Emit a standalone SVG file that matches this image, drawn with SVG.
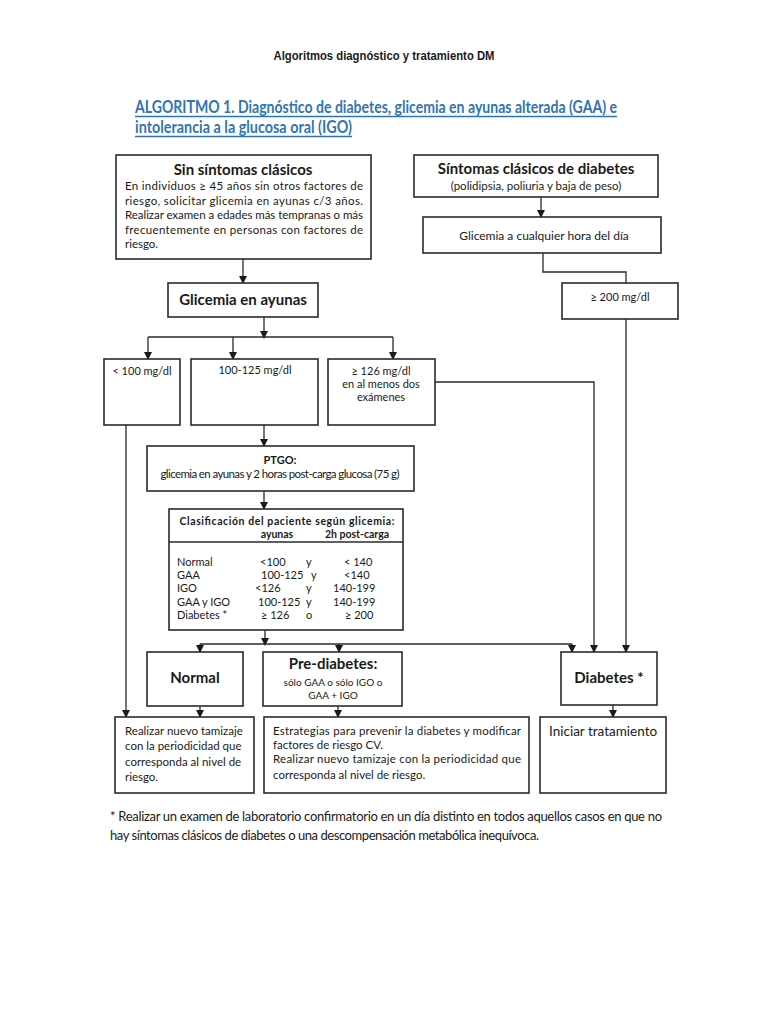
<svg xmlns="http://www.w3.org/2000/svg" width="768" height="1024" viewBox="0 0 768 1024">
<defs>
<marker id="a" markerUnits="userSpaceOnUse" markerWidth="8" markerHeight="8" refX="7" refY="4" orient="auto" viewBox="0 0 8 8">
<path d="M0,0 L8,4 L0,8 Z" fill="#1a1a1a"/>
</marker>
<style>
.box{fill:#fff;stroke:#2a2a2a;stroke-width:1.6}
.ln{fill:none;stroke:#2a2a2a;stroke-width:1.3}
.arr{marker-end:url(#a)}
text{font-family:Lato,"Open Sans","Liberation Sans",sans-serif;fill:#1a1a1a}
.b{font-weight:bold}
.h{font-size:15px;font-weight:bold}
.t{font-size:11.5px}
.s{font-size:11px}
.c{text-anchor:middle}
</style>
</defs>
<rect width="768" height="1024" fill="#fff"/>

<text x="384" y="60" class="c b" style="font-family:'Liberation Sans',Arial,sans-serif;font-size:13px" textLength="221" lengthAdjust="spacingAndGlyphs">Algoritmos diagnóstico y tratamiento DM</text>
<g id="heading">
<text x="135" y="113" style="font-size:16.5px;font-weight:bold;fill:#2f75b5" textLength="482" lengthAdjust="spacingAndGlyphs">ALGORITMO 1. Diagnóstico de diabetes, glicemia en ayunas alterada (GAA) e</text>
<text x="135" y="133" style="font-size:16.5px;font-weight:bold;fill:#2f75b5" textLength="217" lengthAdjust="spacingAndGlyphs">intolerancia a la glucosa oral (IGO)</text>
<line x1="135" y1="116.5" x2="617" y2="116.5" stroke="#2f75b5" stroke-width="1.3"/>
<line x1="135" y1="136.5" x2="352" y2="136.5" stroke="#2f75b5" stroke-width="1.3"/>
</g>

<g id="connectors">
<line class="ln arr" x1="243" y1="259" x2="243" y2="283"/>
<line class="ln arr" x1="541" y1="197" x2="541" y2="217"/>
<polyline class="ln" points="543,253 543,272 626,272 626,283"/>
<line class="ln arr" x1="626" y1="319" x2="626" y2="652"/>
<line class="ln arr" x1="264" y1="317" x2="264" y2="338"/>
<line class="ln" x1="148" y1="337" x2="393" y2="337"/>
<line class="ln arr" x1="148" y1="337" x2="148" y2="359"/>
<line class="ln arr" x1="233" y1="337" x2="233" y2="359"/>
<line class="ln arr" x1="393" y1="337" x2="393" y2="359"/>
<polyline class="ln arr" points="435,382 594,382 594,652"/>
<line class="ln arr" x1="126" y1="425" x2="126" y2="717"/>
<line class="ln arr" x1="264" y1="425" x2="264" y2="446"/>
<line class="ln arr" x1="264" y1="491" x2="264" y2="509"/>
<line class="ln arr" x1="265" y1="630" x2="265" y2="645"/>
<line class="ln" x1="200" y1="644" x2="572" y2="644"/>
<line class="ln arr" x1="200" y1="644" x2="200" y2="652"/>
<line class="ln arr" x1="339" y1="644" x2="339" y2="652"/>
<line class="ln arr" x1="572" y1="644" x2="572" y2="652"/>
<line class="ln arr" x1="200" y1="706" x2="200" y2="717"/>
<line class="ln arr" x1="338" y1="706" x2="338" y2="717"/>
<line class="ln arr" x1="613" y1="705" x2="613" y2="717"/>
</g>

<g id="sin-sintomas">
<rect class="box" x="116" y="155" width="255" height="104"/>
<text x="243" y="175" class="h c">Sin síntomas clásicos</text>
<text x="125" y="190" class="t" textLength="238">En individuos ≥ 45 años sin otros factores de</text>
<text x="125" y="205" class="t" textLength="238">riesgo, solicitar glicemia en ayunas c/3 años.</text>
<text x="125" y="219" class="t" textLength="238">Realizar examen a edades más tempranas o más</text>
<text x="125" y="234" class="t" textLength="238">frecuentemente en personas con factores de</text>
<text x="125" y="248" class="t">riesgo.</text>
</g>

<g id="sintomas">
<rect class="box" x="414" y="155" width="244" height="42"/>
<text x="536" y="174" class="h c">Síntomas clásicos de diabetes</text>
<text x="536" y="190" class="t c">(polidipsia, poliuria y baja de peso)</text>
</g>

<g id="glicemia-hora">
<rect class="box" x="423" y="217" width="238" height="36"/>
<text x="544" y="240" class="c" style="font-size:12px">Glicemia a cualquier hora del día</text>
</g>

<g id="ge200">
<rect class="box" x="562" y="283" width="116" height="36"/>
<text x="620" y="301" class="s c">≥ 200 mg/dl</text>
</g>

<g id="glicemia-ayunas">
<rect class="box" x="168" y="283" width="150" height="34"/>
<text x="243" y="305" class="h c">Glicemia en ayunas</text>
</g>

<g id="lt100">
<rect class="box" x="104" y="359" width="76" height="66"/>
<text x="142" y="375" class="s c">&lt; 100 mg/dl</text>
</g>
<g id="r100-125">
<rect class="box" x="191" y="359" width="127" height="66"/>
<text x="255" y="374" class="s c">100-125 mg/dl</text>
</g>
<g id="ge126">
<rect class="box" x="328" y="359" width="107" height="66"/>
<text x="381" y="375" class="s c">≥ 126 mg/dl</text>
<text x="381" y="388" class="s c">en al menos dos</text>
<text x="381" y="401" class="s c">exámenes</text>
</g>

<g id="ptgo">
<rect class="box" x="147" y="446" width="267" height="45"/>
<text x="280" y="464" class="c b" style="font-size:11px">PTGO:</text>
<text x="280" y="478" class="t c" textLength="239">glicemia en ayunas y 2 horas post-carga glucosa (75 g)</text>
</g>

<g id="clasificacion">
<rect class="box" x="169" y="509" width="234" height="121"/>
<line class="ln" x1="169" y1="542" x2="403" y2="542"/>
<text x="287" y="525" class="c b" style="font-size:10.5px" textLength="215">Clasificación del paciente según glicemia:</text>
<text x="277" y="538" class="c b" style="font-size:10.5px">ayunas</text>
<text x="357" y="538" class="c b" style="font-size:10.5px">2h post-carga</text>
<g style="font-size:11px">
<text x="177" y="566">Normal</text><text x="260" y="566">&lt;100</text><text x="306" y="566">y</text><text x="344" y="566">&lt; 140</text>
<text x="177" y="579">GAA</text><text x="261" y="579">100-125</text><text x="311" y="579">y</text><text x="344" y="579">&lt;140</text>
<text x="177" y="592">IGO</text><text x="255" y="592">&lt;126</text><text x="306" y="592">y</text><text x="333" y="592">140-199</text>
<text x="177" y="606">GAA y IGO</text><text x="258" y="606">100-125</text><text x="306" y="606">y</text><text x="333" y="606">140-199</text>
<text x="177" y="619">Diabetes *</text><text x="261" y="619">≥ 126</text><text x="306" y="619">o</text><text x="345" y="619">≥ 200</text>
</g>
</g>

<g id="normal">
<rect class="box" x="147" y="652" width="96" height="54"/>
<text x="195" y="683" class="h c">Normal</text>
</g>
<g id="prediabetes">
<rect class="box" x="263" y="652" width="139" height="54"/>
<text x="333" y="669" class="h c">Pre-diabetes:</text>
<text x="333" y="686" class="c" style="font-size:10px">sólo GAA o sólo IGO o</text>
<text x="333" y="699" class="c" style="font-size:10px">GAA + IGO</text>
</g>
<g id="diabetes">
<rect class="box" x="561" y="652" width="96" height="53"/>
<text x="609" y="683" class="h c">Diabetes *</text>
</g>

<g id="tamizaje">
<rect class="box" x="115" y="717" width="139" height="76"/>
<text x="125" y="735" class="t">Realizar nuevo tamizaje</text>
<text x="125" y="750" class="t">con la periodicidad que</text>
<text x="125" y="766" class="t">corresponda al nivel de</text>
<text x="125" y="781" class="t">riesgo.</text>
</g>
<g id="estrategias">
<rect class="box" x="264" y="717" width="265" height="76"/>
<text x="273" y="735" class="t" textLength="248">Estrategias para prevenir la diabetes y modificar</text>
<text x="273" y="749" class="t">factores de riesgo CV.</text>
<text x="273" y="763" class="t" textLength="248">Realizar nuevo tamizaje con la periodicidad que</text>
<text x="273" y="779" class="t">corresponda al nivel de riesgo.</text>
</g>
<g id="tratamiento">
<rect class="box" x="540" y="717" width="126" height="76"/>
<text x="549" y="736" style="font-size:13.5px">Iniciar tratamiento</text>
</g>

<g id="footnote">
<text x="110" y="821" style="font-size:13px" textLength="552">*  Realizar un examen de laboratorio confirmatorio en un día distinto en todos aquellos casos en que no</text>
<text x="110" y="840" style="font-size:13px" textLength="429">hay síntomas clásicos de diabetes o una descompensación metabólica inequívoca.</text>
</g>
</svg>
